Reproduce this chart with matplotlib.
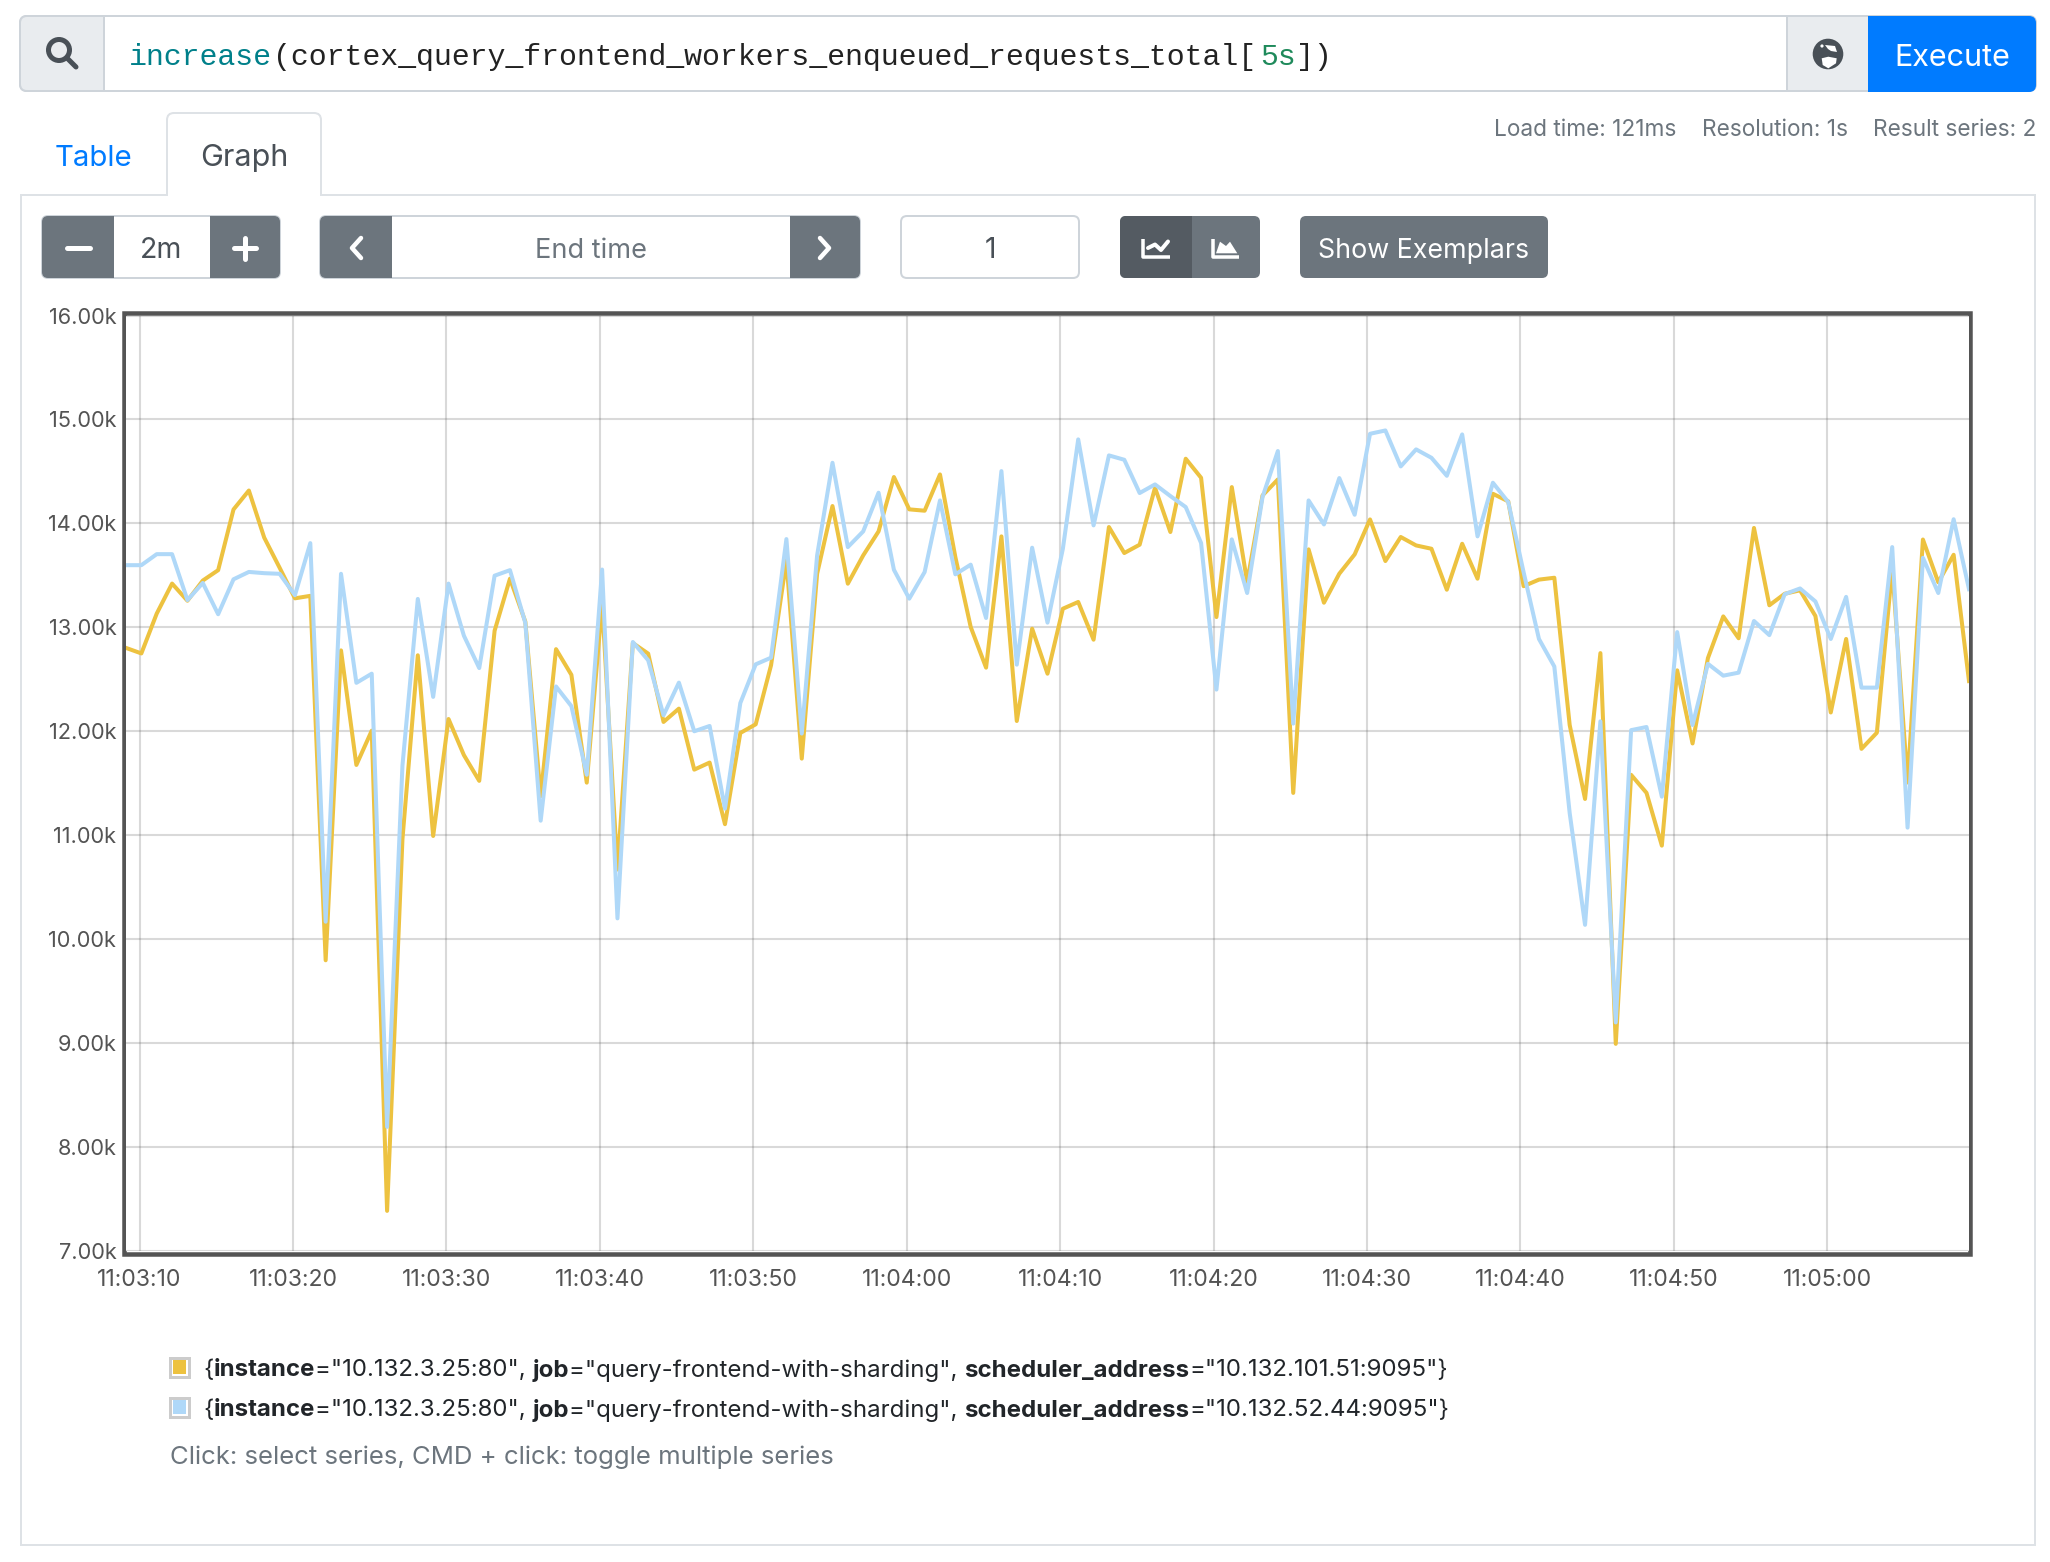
import matplotlib
matplotlib.use("Agg")
import matplotlib.pyplot as plt
from matplotlib.patches import FancyBboxPatch, Rectangle, Circle, Polygon
import numpy as np

W, H = 2050, 1562
UI_FONT = "Inter"
MONO_FONT = "Liberation Mono"

# values, one per second
series_yellow = [
    12802, 12749, 13132, 13421, 13256, 13450, 13550, 14134, 14316, 13863,
    13574, 13279, 13303, 9797, 12778, 11676, 12006, 7386, 10963, 12731,
    10993, 12118, 11771, 11523, 12967, 13468, 13055, 11376, 12790, 12543,
    11506, 13228, 10670, 12849, 12747, 12090, 12218, 11631, 11699, 11106,
    11984, 12067, 12635, 13644, 11737, 13516, 14167, 13420, 13692, 13923,
    14446, 14135, 14122, 14471, 13676, 13003, 12612, 13875, 12099, 12987,
    12554, 13179, 13244, 12881, 13965, 13715, 13795, 14343, 13917, 14622,
    14439, 13099, 14349, 13436, 14269, 14423, 11407, 13750, 13237, 13516,
    13702, 14038, 13638, 13869, 13788, 13756, 13362, 13804, 13468, 14285,
    14212, 13396, 13459, 13477, 12060, 11349, 12752, 8993, 11581, 11408,
    10900, 12586, 11883, 12704, 13105, 12895, 13956, 13212, 13323, 13356,
    13109, 12181, 12888, 11831, 11986, 13570, 11507, 13845, 13433, 13698,
    12483,
]
series_blue = [
    13598, 13598, 13704, 13704, 13262, 13427, 13126, 13462, 13533, 13521,
    13515, 13309, 13810, 10168, 13515, 12466, 12554, 8194, 11670, 13273,
    12331, 13421, 12920, 12608, 13497, 13550, 13043, 11140, 12431, 12242,
    11582, 13556, 10200, 12859, 12683, 12154, 12468, 12000, 12051, 11256,
    12272, 12644, 12708, 13849, 11978, 13692, 14583, 13772, 13923, 14295,
    13554, 13276, 13532, 14221, 13510, 13603, 13090, 14503, 12641, 13766,
    13045, 13756, 14808, 13981, 14654, 14612, 14292, 14375, 14263, 14157,
    13811, 12401, 13846, 13330, 14253, 14696, 12074, 14221, 13990, 14436,
    14083, 14862, 14894, 14548, 14712, 14631, 14458, 14856, 13875, 14391,
    14205, 13530, 12888, 12623, 11213, 10138, 12096, 9199, 12011, 12041,
    11371, 12954, 12060, 12649, 12535, 12564, 13061, 12925, 13319, 13374,
    13249, 12888, 13293, 12420, 12420, 13772, 11073, 13669, 13330, 14040,
    13367,
]
y_ticks = [7000, 8000, 9000, 10000, 11000, 12000, 13000, 14000, 15000, 16000]
y_labels = ["7.00k", "8.00k", "9.00k", "10.00k", "11.00k", "12.00k", "13.00k",
            "14.00k", "15.00k", "16.00k"]
x_ticks = [10, 20, 30, 40, 50, 60, 70, 80, 90, 100, 110, 120]
x_labels = ["11:03:10", "11:03:20", "11:03:30", "11:03:40", "11:03:50", "11:04:00",
            "11:04:10", "11:04:20", "11:04:30", "11:04:40", "11:04:50", "11:05:00"]
# samples drift very slightly against the time grid
seconds = 9.12 + np.arange(len(series_yellow)) * 1.001

YELLOW = "#edc240"
BLUE = "#afd8f8"
GREY_BTN = "#6c757d"
BORDER = "#ced4da"

fig = plt.figure(figsize=(W / 100, H / 100), dpi=100, facecolor="white")

# page furniture is drawn in pixel coordinates on a full size axes
bg = fig.add_axes([0, 0, 1, 1])
bg.set_xlim(0, W)
bg.set_ylim(H, 0)
bg.axis("off")


def box(x0, y0, x1, y1, fc="white", ec="none", lw=0, r=6):
    p = FancyBboxPatch((x0 + r, y0 + r), x1 - x0 - 2 * r, y1 - y0 - 2 * r,
                       boxstyle="round,pad=%d,rounding_size=%d" % (r, r),
                       fc=fc, ec=ec, lw=lw * 0.72)
    bg.add_patch(p)


def rect(x0, y0, x1, y1, fc="white", ec="none", lw=0):
    bg.add_patch(Rectangle((x0, y0), x1 - x0, y1 - y0, fc=fc, ec=ec, lw=lw * 0.72))


def line(xs, ys, color, lw, cap="round"):
    bg.plot(xs, ys, color=color, lw=lw * 0.72, solid_capstyle=cap, solid_joinstyle="round")


def label(x, y, s, size=15, color="#212529", ha="center", weight="normal", family=UI_FONT):
    return bg.text(x, y, s, fontsize=size, color=color, ha=ha, va="center_baseline",
                   fontweight=weight, family=family)


# query bar
box(20, 16, 2036, 91, fc="white", ec=BORDER, lw=2, r=7)
box(20, 16, 104, 91, fc="#e9ecef", ec=BORDER, lw=2, r=7)
rect(90, 17, 104, 90, fc="#e9ecef")
line([103.5, 103.5], [17, 90], BORDER, 2)
rect(1787, 17, 1868, 90, fc="#e9ecef")
line([1787, 1787], [17, 90], BORDER, 2)
box(1868, 16, 2036, 92, fc="#007bff", r=7)
rect(1868, 16, 1890, 92, fc="#007bff")
bg.add_patch(Circle((59, 50), 10.5, fc="none", ec="#495057", lw=5 * 0.72))
line([67, 76], [58, 67], "#495057", 5)
bg.add_patch(Circle((1828, 54), 15.3, fc="#495057", ec="none"))
bg.add_patch(Polygon([(1825, 45), (1835, 46), (1837, 52), (1831, 51), (1828, 49)], fc="white", ec="none"))
bg.add_patch(Circle((1822, 46), 1.6, fc="white", ec="none"))
bg.add_patch(Polygon([(1821.7, 58.3), (1828.3, 56.7), (1836.7, 58.3), (1836, 63.3), (1828.3, 68.3), (1822.7, 65)],
                     fc="white", ec="none"))

query_parts = [("increase", "#00808a"), ("(cortex_query_frontend_workers_enqueued_requests_total[", "#222222"),
               ("5s", "#1f8a5b"), ("])", "#222222")]
qx = 129
for part, col in query_parts:
    label(qx, 54, part, size=21.5, color=col, ha="left", family=MONO_FONT)
    qx += len(part) * 17.95
label(1952, 55, "Execute", size=22, color="white")

# stats and panel
label(1676, 128, "Load time: 121ms", size=16.3, color=GREY_BTN, ha="right")
label(1848, 128, "Resolution: 1s", size=16.3, color=GREY_BTN, ha="right")
label(2036, 128, "Result series: 2", size=16.3, color=GREY_BTN, ha="right")
rect(20.5, 195, 2035, 1545, fc="white", ec="#dee2e6", lw=2)

# tabs, the open one merges into the panel below it
box(167, 113, 321, 215, fc="white", ec="#dee2e6", lw=2, r=7)
rect(165, 196, 323, 216, fc="white")
label(93, 155, "Table", size=21.2, color="#007bff")
label(244, 155, "Graph", size=22, color="#495057")

# graph controls
box(42, 216, 280, 278, fc="white", ec=BORDER, lw=2, r=6)
box(42, 216, 114, 278, fc=GREY_BTN, r=6)
rect(100, 216, 114, 278, fc=GREY_BTN)
box(210, 216, 280, 278, fc=GREY_BTN, r=6)
rect(210, 216, 224, 278, fc=GREY_BTN)
line([67, 90], [248, 248], "white", 5)
line([234, 256], [248, 248], "white", 5)
line([245, 245], [237.5, 258.5], "white", 5)
label(161, 248, "2m", size=20.5, color="#495057")

box(320, 216, 860, 278, fc="white", ec=BORDER, lw=2, r=6)
box(320, 216, 392, 278, fc=GREY_BTN, r=6)
rect(378, 216, 392, 278, fc=GREY_BTN)
box(790, 216, 860, 278, fc=GREY_BTN, r=6)
rect(790, 216, 804, 278, fc=GREY_BTN)
line([361, 352, 361], [238, 248, 258], "white", 4.5)
line([820, 829, 820], [238, 248, 258], "white", 4.5)
label(591, 248, "End time", size=19.6, color=GREY_BTN)

box(901, 216, 1079, 278, fc="white", ec=BORDER, lw=2, r=6)
label(990, 248, "1", size=20.5, color="#495057")

box(1120, 216, 1260, 278, fc=GREY_BTN, r=6)
box(1120, 216, 1192, 278, fc="#545b62", r=6)
rect(1178, 216, 1192, 278, fc="#545b62")
line([1142.5, 1142.5, 1170], [238.5, 256.5, 256.5], "white", 3.5, cap="butt")
line([1148, 1155, 1161, 1168], [248, 244.5, 250, 241.5], "white", 4)
line([1212.5, 1212.5, 1239], [238.5, 256.5, 256.5], "white", 3.5, cap="butt")
bg.add_patch(Polygon([(1216, 253.3), (1220, 241.7), (1226, 246), (1230, 241.7), (1237.3, 253.3)], fc="white", ec="none"))

box(1300, 216, 1548, 278, fc=GREY_BTN, r=6)
label(1424, 248, "Show Exemplars", size=19.3, color="white")

# plot frame sits just outside the plotting area
rect(124.3, 312.8, 1970, 1253.8, fc="none", ec="#545454", lw=4.5)

# the graph
left, right, top, bottom = 126, 1969, 315.5, 1251
ax = fig.add_axes([left / W, 1 - bottom / H, (right - left) / W, (bottom - top) / H])
ax.plot(seconds, series_yellow, color=YELLOW, lw=2.9, solid_joinstyle="round", zorder=3)
ax.plot(seconds, series_blue, color=BLUE, lw=2.9, solid_joinstyle="round", zorder=4)
ax.set_xlim(seconds[0], seconds[-1])
ax.set_ylim(7000, 16000)
ax.set_xticks(x_ticks)
ax.set_xticklabels(x_labels)
ax.set_yticks(y_ticks)
ax.set_yticklabels(y_labels)
ax.grid(True, color="#545454", alpha=0.22, lw=1.5)
ax.set_axisbelow(True)
ax.tick_params(axis="x", length=0, pad=13, labelsize=16.6, labelcolor="#545454")
ax.tick_params(axis="y", length=0, pad=7, labelsize=15.7, labelcolor="#545454")
for tl in ax.get_xticklabels() + ax.get_yticklabels():
    tl.set_family(UI_FONT)
for sp in ax.spines.values():
    sp.set_visible(False)

# legend
renderer = fig.canvas.get_renderer()


def text_width(s, weight):
    # a trailing bar keeps the spaces in the measure
    a = bg.text(0, 0, s + "|", fontsize=LEGEND_SIZE, fontweight=weight, family=UI_FONT)
    b = bg.text(0, 0, "|", fontsize=LEGEND_SIZE, fontweight=weight, family=UI_FONT)
    w = a.get_window_extent(renderer).width - b.get_window_extent(renderer).width
    a.remove()
    b.remove()
    return w


LEGEND_SIZE = 17.3
legend_rows = [
    (YELLOW, 1367, "10.132.101.51:9095"),
    (BLUE, 1407, "10.132.52.44:9095"),
]
for col, ly, addr in legend_rows:
    rect(169.5, ly - 9.5, 188.5, ly + 9.5, fc="white", ec="#cccccc", lw=3)
    rect(172.5, ly - 7, 186, ly + 7, fc=col)
    lx = 203.5
    parts = [("{", "normal"), ("instance", "bold"), ('="10.132.3.25:80", ', "normal"), ("job", "bold"),
             ('="query-frontend-with-sharding", ', "normal"), ("scheduler_address", "bold"),
             ('="%s"}' % addr, "normal")]
    for s, wt in parts:
        bg.text(lx, ly + 1, s, fontsize=LEGEND_SIZE, fontweight=wt, family=UI_FONT, color="#212529",
                ha="left", va="center_baseline")
        lx += text_width(s, wt)
label(170, 1455, "Click: select series, CMD + click: toggle multiple series", size=18.5, color=GREY_BTN, ha="left")

plt.savefig("out.png", dpi=100)
